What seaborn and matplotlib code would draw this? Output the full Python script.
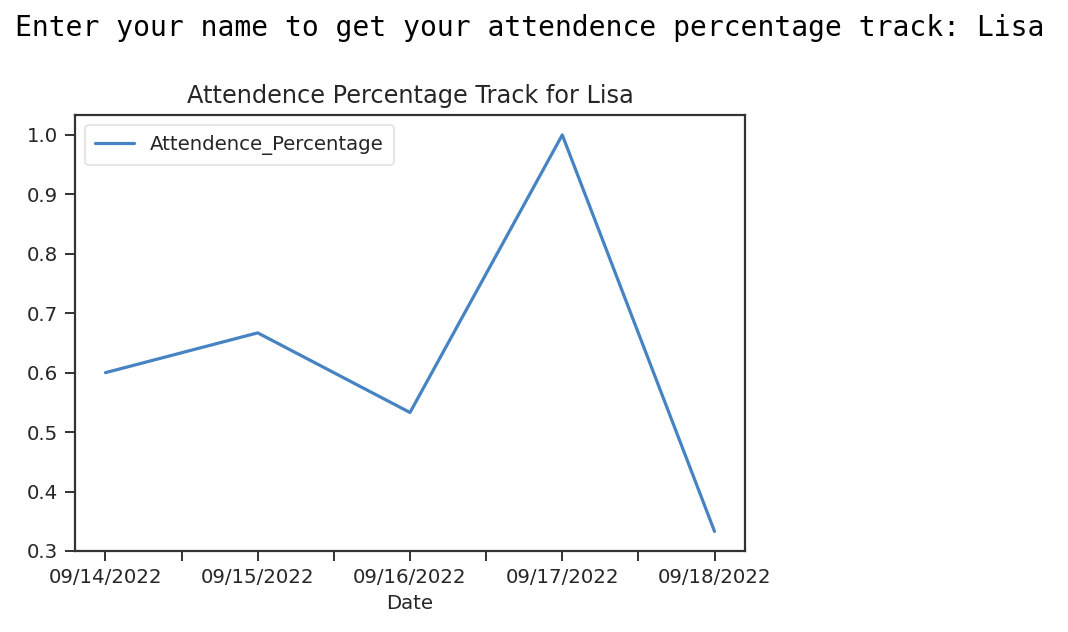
import matplotlib
matplotlib.use("Agg")
import matplotlib.pyplot as plt
import seaborn as sns
import pandas as pd

dates = ["09/14/2022", "09/15/2022", "09/16/2022", "09/17/2022", "09/18/2022"]
attendance = [0.6, 0.667, 0.533, 1.0, 0.333]
name = "Lisa"

sns.set_style("ticks")
plt.rcParams["font.family"] = ["DejaVu Sans"]

df = pd.DataFrame({"pos": list(range(len(dates))), "Attendence_Percentage": attendance})

fig = plt.figure(figsize=(10.68, 6.32), dpi=100)
ax = fig.add_axes([75 / 1068, 1 - 551 / 632, 670 / 1068, 436 / 632])

sns.lineplot(data=df, x="pos", y="Attendence_Percentage", ax=ax, color="#4683c2",
             linewidth=2.3, label="Attendence_Percentage")

ax.set_xlim(-0.2, len(dates) - 1 + 0.2)
ax.set_ylim(0.3, 1.0 + 0.0335)
ticks = [i * 0.5 for i in range(2 * (len(dates) - 1) + 1)]
ax.set_xticks(ticks)
ax.set_xticklabels([dates[int(t)] if t == int(t) else "" for t in ticks])
ax.set_yticks([0.3, 0.4, 0.5, 0.6, 0.7, 0.8, 0.9, 1.0])
ax.set_yticklabels(["0.3", "0.4", "0.5", "0.6", "0.7", "0.8", "0.9", "1.0"])
ax.tick_params(axis="both", labelsize=14.2, length=7, width=1.4, colors="#333333",
               labelcolor="#262626", pad=5)
for s in ax.spines.values():
    s.set_linewidth(1.6)
    s.set_color("#333333")
ax.set_xlabel("Date", fontsize=14.2, color="#262626", labelpad=5)
ax.set_ylabel("")
ax.set_title(f"Attendence Percentage Track for {name}", fontsize=17.3, color="#262626", pad=9)

leg = ax.legend(loc="upper left", fontsize=14.2, frameon=True, handlelength=2.0,
                borderpad=0.5, labelcolor="#262626")
leg.get_frame().set_edgecolor("#d9d9d9")
leg.get_frame().set_linewidth(1.2)

fig.text(15 / 1068, 1 - 28 / 632, f"Enter your name to get your attendence percentage track: {name}",
         fontsize=20.2, family="DejaVu Sans Mono", va="center", ha="left", color="black")

fig.savefig("out.png", dpi=100, facecolor="white")
